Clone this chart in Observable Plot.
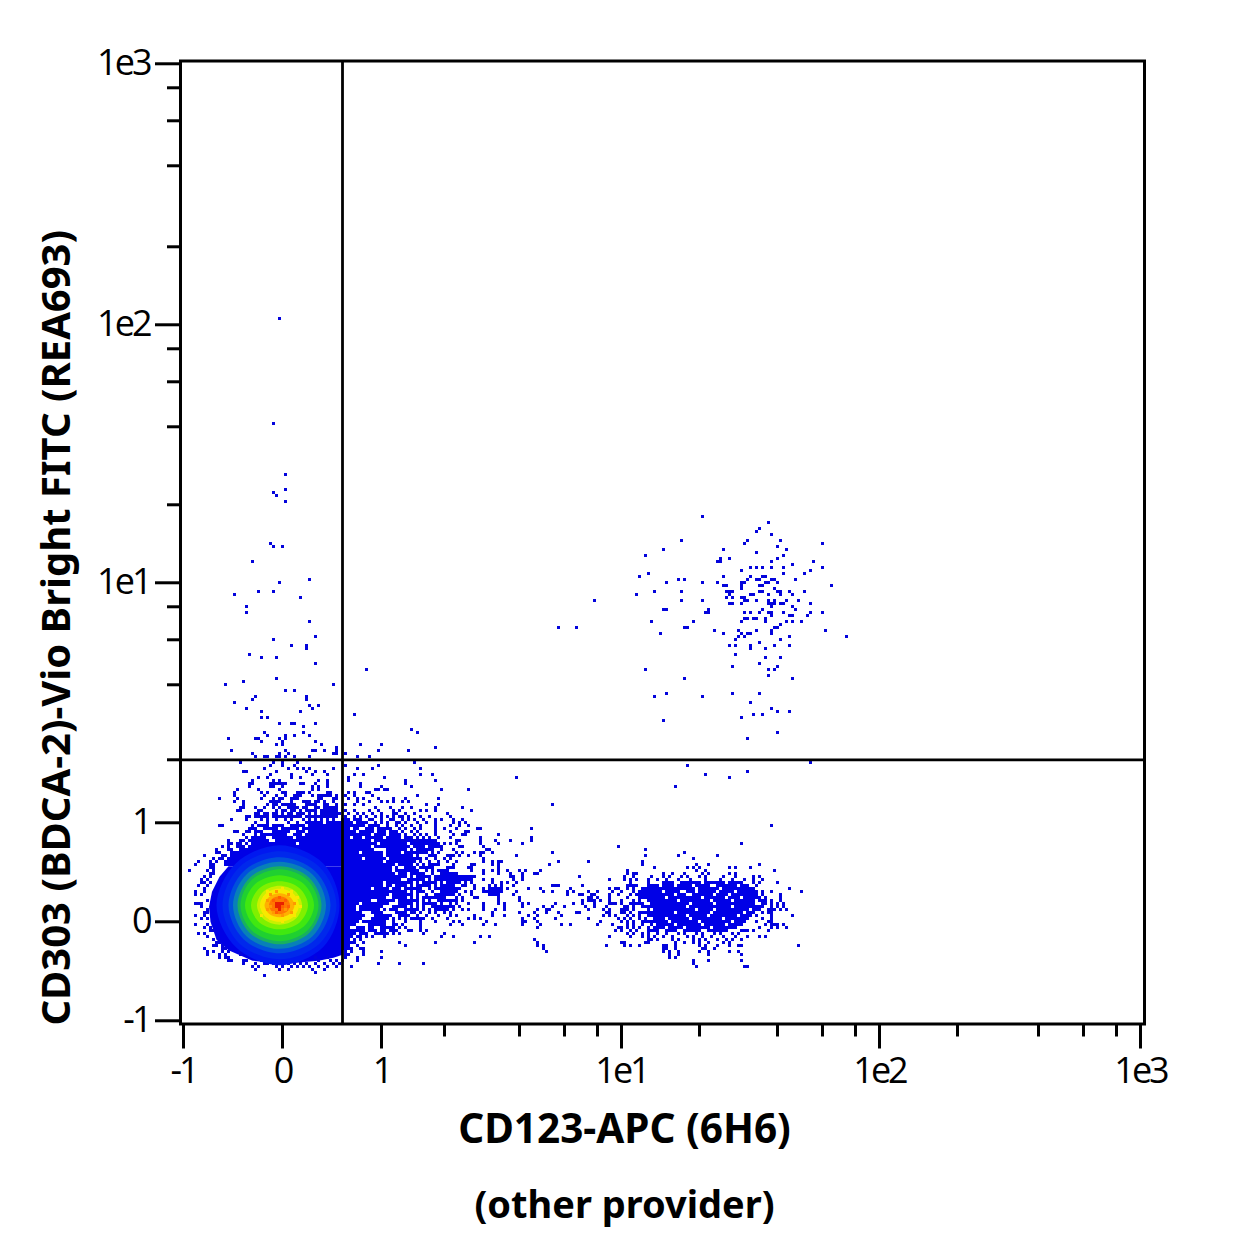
<!DOCTYPE html>
<html>
<head>
<meta charset="utf-8">
<style>html,body{margin:0;padding:0;background:#fff}svg{display:block}
g[aria-label="x-axis tick label"],g[aria-label="y-axis tick label"]{letter-spacing:-3px}</style>
<script src="https://cdn.jsdelivr.net/npm/d3@7"></script>
<script src="https://cdn.jsdelivr.net/npm/@observablehq/plot@0.6"></script>
</head>
<body>
<script>
// All positions are display channels on the biexponential axes (0..319 = -1..1e3).
const xMajor=[0,33,66,146,232,319];
const yMajor=[0,33,66,146,232,319];
const majorLabels=["-1","0","1","1e1","1e2","1e3"];
const xMinor=[87,112,127,138,172,198,213,224,258,285,300,311];
const yMinor=[87,112,127,138,172,198,213,224,258,285,300,311];
const gateX=53, gateY=87;

const upperCluster=[[168,[173]],[166,[195]],[164,[192]],[163,[191]],[162,[196]],[160,[166,199,188]],[159,[187,213]],[158,[198]],[157,[160,180,201]],[156,[191]],[155,[154,200]],[154,[182,198,179]],[153,[178,179,196,210]],[152,[203]],[151,[213,189,191,193,196,200]],[150,[186,209]],[149,[155,200,207]],[148,[152,180,193,194,189]],[147,[188,191,192,196,197,204,165,167]],[146,[161,173,178,186,187,194,195,198]],[145,[180,181,186,193,192,216]],[144,[186,197]],[143,[157,166,181,182,183,192,193,198,199,202,207]],[142,[151,182,189,190,195,199,203]],[141,[181,183,186,187]],[140,[137,166,173,187,188,191,195,197,201,205]],[139,[182,183,186,195,196,197,199,200,209]],[138,[196,203]],[137,[160,161,175,193,204]],[136,[174,175,187,189,192,195,196,200,209,213]],[135,[196,202,203,208]],[134,[187,188,190,191,194]],[133,[156,170,186,194,201,203,206]],[132,[199]],[131,[125,131,167,168,197,198]],[130,[177,185,191,196,214]],[129,[159,180,186,188,189,196]],[128,[185,187,202,221]],[127,[184,199]],[126,[192]],[125,[182,184,189,197,202]],[124,[189,194]],[122,[184]],[121,[194,199]],[119,[192]],[118,[183,198]],[117,[154,195,197]],[115,[195]],[114,[167,203]],[109,[161,183,192]],[108,[157,173]],[106,[189]],[104,[196]],[103,[198,202]],[102,[190,193]],[101,[186]],[100,[160]],[96,[198]],[94,[188]],[86,[209]],[85,[168]],[83,[188]],[82,[174]],[81,[182]],[78,[164]]];

const leftColumn=[[234,[32]],[199,[30]],[182,[34]],[177,[34]],[176,[30]],[175,[31]],[173,[34]],[159,[29]],[158,[30,33]],[153,[23]],[147,[42]],[146,[32]],[143,[25,30]],[142,[17]],[141,[39]],[138,[21]],[136,[21]],[133,[42]],[128,[44]],[127,[30]],[125,[36,41]],[124,[41]],[122,[22]],[121,[26,31]],[119,[44]],[117,[61]],[114,[31]],[113,[20]],[112,[14,50]],[110,[34,37]],[108,[24,41]],[107,[23,41]],[106,[17]],[105,[42,45]],[104,[43,21]],[103,[26,39]],[102,[57]],[101,[26,28]],[99,[32,36,37,44]],[98,[40]],[97,[76]],[96,[27,40,78]],[95,[28,34,37,42]],[94,[15,24,25,32,34]],[93,[26,33,44]],[92,[31,33,46,59,66]],[91,[51,84]],[90,[16,34,43,44,47,51,65,75]],[89,[23,32,35,50,51,54]],[88,[24,27,28,31,32,34,37,42,58,62]],[86,[19,30,33,38,77]],[85,[29,33,37,54,65]],[84,[27,35,38,40,42,50,58,63,79]],[83,[20,21,31,41,44,47]],[82,[29,36,43,48,60,79,83]],[81,[25,28,36,39,55,67]],[80,[23,30,32,45,48,74]]];

const topFringe=[[79,[22,23,29,30,31,32,33,34,39,40,44,48]],[78,[22,29,30,33,43,45,48]],[77,[18,25,32,43,45]],[76,[17,26,28,33,34,38,39,40,42,48,49]],[75,[17,27,31,34,37,38,39,43,45,46,47,48,49,51]],[74,[12,18,26,30,32,33,36,37,38,45,46,50,51]],[73,[17,20,29,30,31,32,36,40,41,42,44,45,47,50]],[72,[20,28,30,31,33,34,35,36,37,41,42,43,44,47,48,51]],[71,[19,20,24,27,30,32,35,36,37,38,40,41,44,45,47,48,49,50,51]],[70,[18,19,25,26,31,33,34,36,37,39,41,42,43,44,46,47,48,49,50,51]],[69,[24,25,27,28,30,31,33,35,36,38,39,40,42,44,46,47,48,49,50,51,52]],[68,[21,22,24,25,26,27,28,30,31,32,33,34,35,36,37,38,39,41,42,43,44,45,46,47,48,49,50,51]]];

const leftFringe=[[67,[16,21,26,28,31,34,36,40,42,44,46,48,50]],[66,[24,28,35,38]],[65,[12,13,23]],[64,[24,27,31]],[63,[17,18,21,22]],[62,[20,24]],[61,[21]],[60,[15,19,20]],[59,[15,16,18,19,21]],[58,[13,15,18,19,20]],[57,[11,15,16]],[56,[11,12]],[55,[7,13,14]],[54,[10,12,13]],[53,[5,9,11]],[52,[4,9,10]],[51,[9,10]],[50,[2,8,10]],[49,[9,10]],[48,[7,9]],[47,[6,8]],[46,[6,7,9]],[45,[5,8]],[44,[7]],[43,[4,7]],[42,[4,6]],[40,[8]],[39,[4,5,6]],[38,[6]],[37,[8]],[36,[7,8]],[35,[4,7]],[34,[6,8]],[33,[10]],[32,[4,8]],[31,[7,9]],[30,[9,10]],[29,[5,7]],[28,[8]],[27,[10]],[26,[11,12]],[25,[10,11,13]],[24,[7,13,14]],[23,[8,10,13,15,19,20]],[22,[8,12,14,19,21]],[21,[12,14,15,22,38,40,44,48]],[20,[15,16,20,21,26,30,37,39,45,49,51]],[19,[20,24,27,28,30,35,37,39,41,44,47,50,52]],[18,[23,25,31,33,36,38,40,42,45,48,51,56]],[17,[24,32,35,43,47]],[16,[44]],[15,[27]]];

const fanCells=[[85,[54,65]],[84,[58,63,79]],[82,[57,79,83]],[81,[55,67,111]],[80,[55,84]],[79,[59,74]],[78,[59,66,76]],[77,[64,65,67,68,86,95]],[76,[55,57,61,62]],[75,[54,57,63,78]],[74,[55,58,60,65,70,74,85]],[73,[58,62,66,68,70,73,75]],[72,[54,57,60,81,85,123]],[71,[64,69,73,76,84,93]],[70,[54,57,62,65,70,72,79,81,84,96]],[69,[55,58,60,63,66,70,71,74,77,88]],[68,[54,57,59,61,64,66,68,70,72,73,75,79,82,89]],[67,[62,63,66,69,70,73,75,77,80,84,86,90,93]],[66,[61,64,66,68,71,72,74,78,81,84,90,92,94]],[65,[65,68,71,73,76,79,84,89,92,95]],[64,[65,69,72,74,77,79,84,87,91,98,99,116]],[63,[73,76,78,84,89,94,95]],[62,[74,77,79,81,84,90,93,94,105]],[61,[76,78,80,82,85,89,99,116]],[60,[73,74,77,78,84,91,92,99,104,109,116]],[59,[87,89,91,99,105,113]],[58,[75,77,82,86,92,93,100]],[57,[76,78,83,86,90,101,102]],[56,[79,80,81,83,85,91,93,97,99,100,103,123]],[55,[78,88,89,90,92,95,99,111]],[54,[79,81,84,87,89,100]],[53,[77,79,82,85,88,91,100,103,105,106,125,135]],[52,[78,80,90,96,97,103,105,122]],[51,[71,79,95,96,105]],[50,[71,81,83,96,100,103,105,108,112,114,119]],[49,[83,86,91,100,105,109,113,118,117]],[48,[76,84,97,109,110,113,132]],[47,[82,100,103,110,113]],[46,[78,86,94,96,103,106,108,111]],[45,[76,84,93,94,97,102,104,106,110,123,124,125,133]],[44,[74,79,82,84,97,100,108,115,119,129]],[43,[76,83,94,96,111,120,123,128,130,135,138]],[42,[78,81,92,96,110,128,132,133,136,137]],[41,[76,78,87,91,93,97,98,105,112,138]],[40,[80,82,93,105,112,133,135,137]],[39,[78,86,89,91,95,100,105,107,113,115,124,130,133]],[38,[76,78,80,83,92,100,107,113,120,123,127,134]],[37,[67,80,82,90,93,95,100,104,107,118,121,122,135]],[36,[76,77,79,82,84,87,89,103,112,117,121,125,131,132]],[35,[75,78,81,85,89,91,97,103,107,115,118,126]],[34,[70,72,74,83,88,95,97,99,113,117,124,135]],[33,[67,70,74,79,84,90,92,101,113,114,118]],[32,[67,73,79,89,93,100,104,113,119,126,129]],[31,[72,74,79,118]],[30,[66,67,69,70,71,75,76,79,81]],[29,[67,68,70,72,80,87]],[28,[61,63,67,86,90,99,102]],[27,[57,59,117]],[26,[57,60,72,84,97,118]],[25,[58,74,118,120]],[24,[56,59,60,120]],[23,[54,56,60,66,121]],[22,[54,55,60]],[21,[54,58,66]],[20,[53,58]],[19,[65,72,80]],[18,[56]]];

const lowerCluster=[[65,[196]],[59,[186]],[58,[145]],[57,[154]],[56,[167]],[55,[154,165,178]],[54,[170]],[53,[153]],[52,[153,171,175,192]],[51,[157,168,170,172,182,184,189]],[50,[148,171,174,197]],[49,[148,150,151,160,163,167,173,175,182,184]],[48,[147,150,156,160,162,166,168,172,174,180,184,190,192]],[47,[142,147,149,151,155,158,161,165,169,174,179,183,187,190,193]],[46,[149,155,190,192,198]],[45,[148,191]],[44,[142,144,145,148,150,190,202]],[43,[143,146,150,191,193,196,206]],[42,[136,142,145,149,193,199]],[41,[135,136,138,142,148,194,199]],[40,[136,139,142,146,150,152,196,199]],[39,[137,142,143,144,146,193,194,196,198,200]],[38,[137,141,147,148,150,196,198,200]],[37,[140,142,146,147,148,150,155,195,196,197,199,201]],[36,[141,142,146,147,149,193,195,196]],[35,[140,142,144,148,150,152,191,196,203]],[34,[145,147,149,152,154,193,196]],[33,[139,146,148,150,191,195,196]],[32,[138,143,148,150,153,156,194,196,197,198,200]],[31,[145,146,148,150,152,155,192,196,198,201]],[30,[144,146,149,151,190,195]],[29,[148,150,153,155,158,161,165,167,171,173,177,179,183,185]],[28,[142,149,153,155,157,160,163,168,170,173,176,180,184,188,192,194]],[27,[155,156,158,163,165,170,172,174,178,181,183,186]],[26,[146,147,154,155,164,167,170,172,175,180,182]],[25,[141,147,149,152,160,161,164,172,174,178,182,185,186,205]],[24,[160,161,164,173,174,177]],[23,[160,162,165,172,175,182,185]],[22,[162,165,175,186]],[21,[162,164]],[20,[170,175,186]],[19,[170]],[18,[171,187,188]]];

// Dense rows: [channel y, [[first x, last x], ...]]
const clusterRuns=[[46,[[160,163],[166,172],[174,180],[182,186]]],[45,[[149,151],[155,158],[160,163],[165,169],[171,175],[178,184],[186,188]]],[44,[[153,158],[159,163],[164,170],[172,178],[180,189]]],[43,[[152,159],[161,165],[168,170],[172,177],[179,183],[185,190]]],[42,[[151,163],[165,167],[170,176],[178,181],[183,191]]],[41,[[152,160],[162,172],[174,180],[182,185],[187,192]]],[40,[[155,164],[166,175],[177,182],[184,190],[192,194]]],[39,[[149,153],[156,168],[170,176],[178,190]]],[38,[[153,167],[169,182],[184,193]]],[37,[[157,170],[172,176],[178,188],[190,192]]],[36,[[152,163],[165,175],[177,186],[188,190]]],[35,[[155,167],[169,174],[176,184],[186,189]]],[34,[[157,160],[162,168],[170,179],[181,188]]],[33,[[153,161],[163,171],[173,182],[184,187]]],[32,[[158,163],[165,172],[174,180],[182,186]]],[31,[[157,160],[162,166],[168,175],[177,184]]],[30,[[155,158],[161,164],[167,172],[175,181],[186,188]]]];
const blobTopRuns=[[66,[[41,46],[48,52]]],[65,[[25,28],[30,33],[36,40],[42,52]]],[64,[[22,24],[28,30],[33,38],[40,52]]],[63,[[24,26],[30,35],[38,40],[42,52]]],[62,[[26,34],[37,39],[41,52]]],[61,[[23,27],[30,36],[38,52]]],[60,[[22,28],[31,52]]],[59,[[23,37],[39,52]]],[58,[[22,52]]],[57,[[19,52]]],[56,[[16,52]]],[55,[[16,52]]],[54,[[15,52]]],[53,[[14,52]]],[52,[[14,52]]]];
const fanRuns=[[67,[[53,55],[57,59]]],[66,[[53,56],[58,60]]],[65,[[53,60],[62,64]]],[64,[[53,55],[57,58],[61,63],[66,68]]],[63,[[53,57],[59,63],[65,67],[69,71]]],[62,[[53,62],[64,67],[69,72]]],[61,[[53,55],[57,59],[61,66],[68,72],[74,75]]],[60,[[53,62],[64,72],[75,76],[79,83]]],[59,[[53,64],[66,74],[76,85]]],[58,[[53,62],[64,74],[78,80],[83,85]]],[57,[[53,63],[68,74],[79,82]]],[56,[[53,58],[60,66],[68,72],[74,78]]],[55,[[53,66],[68,76],[82,84]]],[54,[[53,59],[61,67],[69,78]]],[53,[[53,66],[68,76]]],[52,[[53,70],[72,76],[82,85]]],[51,[[53,69],[74,77],[80,83],[88,90]]],[50,[[53,69],[72,78],[85,88]]],[49,[[53,70],[72,74],[76,80],[87,90]]],[48,[[53,74],[78,82],[85,96]]],[47,[[53,72],[75,80],[84,96]]],[46,[[53,66],[68,76],[80,84],[88,92]]],[45,[[53,66],[68,69],[71,74],[78,82],[86,90]]],[44,[[53,62],[64,68],[70,72],[75,78],[85,92],[102,106]]],[43,[[53,74],[78,80],[86,91],[100,106]]],[42,[[53,68],[70,76],[84,90],[102,105]]],[41,[[53,67],[70,74],[80,86]]],[40,[[53,62],[65,70],[72,78],[85,91]]],[39,[[53,58],[60,68],[72,76],[80,84]]],[38,[[53,57],[59,66],[70,74],[84,90]]],[37,[[53,57],[59,65],[69,71],[74,78],[84,88]]],[36,[[53,59],[63,66],[71,74]]],[35,[[53,60],[64,69],[72,74]]],[34,[[53,59],[63,68],[76,80]]],[33,[[53,58],[60,66]]],[32,[[53,57],[62,66],[70,71]]],[31,[[53,55],[58,60],[62,63],[66,70]]],[30,[[53,56],[57,60],[62,64]]],[29,[[53,57],[59,61],[64,66]]],[28,[[53,56],[58,59]]],[27,[[53,55]]],[26,[[53,56]]],[25,[[52,55]]],[24,[[53,55]]]];

const blueBody=[[9,33],[8.5,38],[9.5,43],[12,48],[15,51.5],[53,51.5],[53,22],[50,21],[45,20],[34,19],[23,20],[15,23.5],[11,27]];

const bandColors=["#0018f0","#0028ec","#0050dc","#0880b8","#18b060","#20d030","#40e810","#80f000","#c8f000","#f8e800","#ffb000","#ff7800","#f03000"];
const bandOutlines=[
[[52,38.5],[46.5,52.5],[32,58.5],[17.5,52.5],[11,38.5],[17.5,24.5],[32,18.5],[46.5,24.5]],
[[51,38.5],[45.4,51.2],[32,56.5],[18.6,51.2],[13,38.5],[18.6,25.8],[32,20.5],[45.4,25.8]],
[[49,38.5],[44,49.8],[32,54.5],[20,49.8],[15,38.5],[20,27.2],[32,22.5],[44,27.2]],
[[47.5,38.5],[43,48.8],[32,53],[21,48.8],[16.5,38.5],[21,28.2],[32,24],[43,28.2]],
[[46,38.5],[41.9,47.7],[32,51.5],[22.1,47.7],[18,38.5],[22.1,29.3],[32,25.5],[41.9,29.3]],
[[45,38.5],[41.2,47],[32,50.5],[22.8,47],[19,38.5],[22.8,30],[32,26.5],[41.2,30]],
[[43.5,38.5],[40.1,45.6],[32,48.5],[23.9,45.6],[20.5,38.5],[23.9,31.4],[32,28.5],[40.1,31.4]],
[[41.5,38.5],[38.7,44.2],[32,46.5],[25.3,44.2],[22.5,38.5],[25.3,32.8],[32,30.5],[38.7,32.8]],
[[39.5,38.5],[37.3,43.1],[32,45],[26.7,43.1],[24.5,38.5],[26.7,33.9],[32,32],[37.3,33.9]],
[[38.5,38.5],[36.6,42.4],[32,44],[27.4,42.4],[25.5,38.5],[27.4,34.6],[32,33],[36.6,34.6]],
[[37,38.5],[35.5,41.3],[32,42.5],[28.5,41.3],[27,38.5],[28.5,35.7],[32,34.5],[35.5,35.7]],
[[35.5,38.5],[34.5,40.6],[32,41.5],[29.5,40.6],[28.5,38.5],[29.5,36.4],[32,35.5],[34.5,36.4]],
[[33.5,38.5],[33,39.2],[32,39.5],[31,39.2],[30.5,38.5],[31,37.8],[32,37.5],[33,37.8]]
];
const hotYellow=[[27,41],[28,43],[26,38],[26,35],[29,34],[33,33],[37,35],[39,38],[38,41],[36,43],[33,44]];
const hotOrange=[[28,40],[29,42],[31,43],[35,42],[37,39],[36,36],[33,35],[30,36],[28,37],[34,37],[29,38]];
const hotDeep=[[30,40],[32,41],[34,40],[31,36],[33,38],[35,38]];
const hotRed=[[31,38],[32,38],[32,39],[33,39],[31,39],[32,37]];

const xTitle="CD123-APC (6H6)", xNote="(other provider)", yTitle="CD303 (BDCA-2)-Vio Bright FITC (REA693)";

const flat=rows=>rows.flatMap(([y,xs])=>xs.map(x=>[x,y]));
const cells=[upperCluster,leftColumn,topFringe,leftFringe,fanCells,lowerCluster].flatMap(flat);
const runs=[clusterRuns,blobTopRuns,fanRuns].flatMap(rows=>rows.flatMap(([y,rs])=>rs.map(r=>({y,a:r[0],b:r[1]}))));
const cellMark=(data,fill)=>Plot.rect(data,{x1:d=>d[0]-.5,x2:d=>d[0]+.5,y1:d=>d[1]-.5,y2:d=>d[1]+.5,fill,shapeRendering:"crispEdges"});
const poly=(data,fill,curve)=>Plot.line(data,{x:d=>d[0],y:d=>d[1],fill,stroke:"none",curve});
const labelOf=t=>majorLabels[xMajor.indexOf(t)];
const tickFont={fontFamily:"'Open Sans',sans-serif",fontSize:36};
const titleFont={fontFamily:"'Noto Sans',sans-serif",fontWeight:700,fontSize:40,fill:"#000",lineAnchor:"middle",textAnchor:"middle"};

const chart=Plot.plot({
  width:1250,height:1250,
  marginLeft:180,marginRight:106,marginTop:60.5,marginBottom:226.5,
  style:{background:"#fff",overflow:"visible"},
  x:{domain:[-1,320.33],axis:null},
  y:{domain:[-1.07,319.93],axis:null},
  marks:[
    poly(blueBody,"#0000e6","linear-closed"),
    Plot.rect(runs,{x1:d=>d.a-.5,x2:d=>d.b+.5,y1:d=>d.y-.5,y2:d=>d.y+.5,fill:"#0000e6",shapeRendering:"crispEdges"}),
    cellMark(cells,"#0404dc"),
    ...bandOutlines.map((o,i)=>poly(o,bandColors[i],"catmull-rom-closed")),
    cellMark(hotYellow,"#f8e800"),
    cellMark(hotOrange,"#ff9800"),
    cellMark(hotDeep,"#ff6000"),
    cellMark(hotRed,"#e82000"),
    Plot.ruleX([gateX],{stroke:"#000",strokeWidth:2.8}),
    Plot.ruleY([gateY],{stroke:"#000",strokeWidth:2.8}),
    Plot.frame({stroke:"#000",strokeWidth:3}),
    Plot.axisX({ticks:xMajor,tickSize:25,strokeWidth:3,stroke:"#000",tickPadding:8,tickFormat:labelOf,label:null,...tickFont,fill:"#000"}),
    Plot.axisX({ticks:xMinor,tickSize:13,strokeWidth:3,stroke:"#000",tickFormat:()=>"",label:null}),
    Plot.axisY({ticks:yMajor,tickSize:25,strokeWidth:3,stroke:"#000",tickPadding:6,tickFormat:labelOf,label:null,...tickFont,fill:"#000"}),
    Plot.axisY({ticks:yMinor,tickSize:13,strokeWidth:3,stroke:"#000",tickFormat:()=>"",label:null}),
    Plot.text([xTitle],{x:147,frameAnchor:"bottom",dy:106,...titleFont,fontSize:40.5}),
    Plot.text([xNote],{x:147,frameAnchor:"bottom",dy:182,...titleFont,fontSize:38}),
    Plot.text([yTitle],{y:131,frameAnchor:"left",dx:-123,rotate:-90,...titleFont})
  ]
});
document.body.appendChild(chart);
</script>
</body>
</html>
